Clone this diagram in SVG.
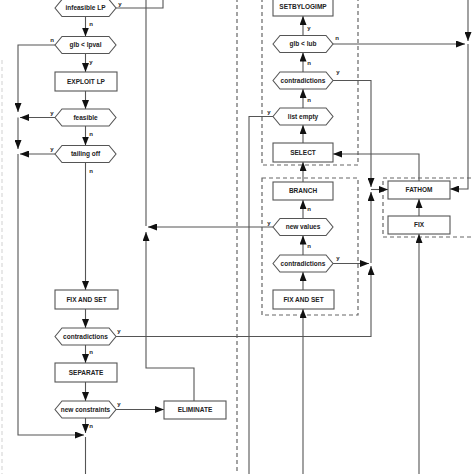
<svg xmlns="http://www.w3.org/2000/svg" width="474" height="474" viewBox="0 0 474 474">
<defs>
<style>
.bg{fill:#fff}
.box{fill:#fff;stroke:#555;stroke-width:1.1}
.ln{fill:none;stroke:#555;stroke-width:1.1}
.ar{fill:none;stroke:#555;stroke-width:1.1;marker-end:url(#ah)}
.dash{fill:none;stroke:#666;stroke-width:1.2;stroke-dasharray:4,3}
.t{font-family:"Liberation Sans",Arial,sans-serif;font-weight:bold;font-size:6.5px;fill:#222;text-anchor:middle}
.lb{font-family:"Liberation Sans",Arial,sans-serif;font-weight:bold;font-size:6px;fill:#222;text-anchor:middle}
</style>
<marker id="ah" viewBox="0 0 9 7" refX="9" refY="3.5" markerWidth="9" markerHeight="7" markerUnits="userSpaceOnUse" orient="auto">
<path d="M0,0 L9,3.5 L0,7 z" fill="#111"/>
</marker>
</defs>
<rect class="bg" x="0" y="0" width="474" height="474"/>

<g id="frames">
<path class="dash" d="M2,60 V474" stroke-opacity="0.25"/>
<path class="dash" d="M237,-2 V476"/>
<path class="dash" d="M262,-2 V165 H358 V-2"/>
<rect class="dash" x="262" y="178" width="96" height="137"/>
<path class="dash" d="M478,178 H383 V237 H478"/>
</g>

<g id="connectors">
<path class="ln" d="M116,8 H163 V-2"/>
<path class="ln" d="M146,-2 V226"/>
<path class="ar" d="M194,401 V368 H146 V232"/>
<path class="ar" d="M85.5,17 V36.5"/>
<path class="ar" d="M55,45 H18 V112"/>
<path class="ar" d="M18,117.5 V149"/>
<path class="ar" d="M18,154 V435 H84"/>
<path class="ar" d="M55,117.5 H20"/>
<path class="ar" d="M55,154 H20"/>
<path class="ar" d="M85.5,53.5 V72"/>
<path class="ar" d="M85.5,91 V109"/>
<path class="ar" d="M85.5,126 V145.5"/>
<path class="ar" d="M85.5,162.5 V290"/>
<path class="ar" d="M85.5,309 V328"/>
<path class="ar" d="M116,336.5 H371 V266"/>
<path class="ar" d="M85.5,345 V363"/>
<path class="ar" d="M85.5,382 V401"/>
<path class="ar" d="M116,409.5 H164"/>
<path class="ar" d="M85.5,418 V433"/>
<path class="ln" d="M85.5,437 V476"/>

<path class="ar" d="M303,35.5 V16"/>
<path class="ar" d="M333,44 H465"/>
<path class="ar" d="M468,-2 V41"/>
<path class="ar" d="M468,44 V189 H450"/>
<path class="ar" d="M303,72 V52.5"/>
<path class="ar" d="M333,80.5 H371 V187"/>
<path class="ar" d="M303,108 V89"/>
<path class="ln" d="M273,116.5 H249 V476"/>
<path class="ar" d="M303,143 V125"/>
<path class="ar" d="M419,181 V154 H333"/>
<path class="ar" d="M303,182 V162"/>
<path class="ar" d="M303,218.5 V200"/>
<path class="ar" d="M273,227 H148"/>
<path class="ar" d="M303,255 V235.5"/>
<path class="ar" d="M333,263.5 H369"/>
<path class="ar" d="M371,263 V192"/>
<path class="ar" d="M371,189.5 H388"/>
<path class="ar" d="M303,290 V272"/>
<path class="ar" d="M303,476 V309"/>
<path class="ar" d="M419,216 V199"/>
<path class="ar" d="M419,476 V234"/>
</g>

<g id="labels">
<text class="lb" x="120" y="6">y</text>
<text class="lb" x="91" y="26">n</text>
<text class="lb" x="52" y="42">n</text>
<text class="lb" x="91" y="64">y</text>
<text class="lb" x="52" y="115">y</text>
<text class="lb" x="91" y="136">n</text>
<text class="lb" x="52" y="151">y</text>
<text class="lb" x="91" y="173">n</text>
<text class="lb" x="119" y="333">y</text>
<text class="lb" x="91" y="354">n</text>
<text class="lb" x="119" y="406">y</text>
<text class="lb" x="91" y="428">n</text>
<text class="lb" x="309" y="30">y</text>
<text class="lb" x="337" y="40">n</text>
<text class="lb" x="309" y="65">n</text>
<text class="lb" x="338" y="74">y</text>
<text class="lb" x="309" y="102">n</text>
<text class="lb" x="269" y="114">y</text>
<text class="lb" x="309" y="211">n</text>
<text class="lb" x="269" y="225">y</text>
<text class="lb" x="309" y="248">n</text>
<text class="lb" x="338" y="260">y</text>
</g>

<g id="n-infeasible"><polygon class="box" points="55,8 62,-0.5 109,-0.5 116,8 109,16.5 62,16.5"/><text class="t" x="85.5" y="10.3">infeasible LP</text></g>
<g id="n-glblpval"><polygon class="box" points="55,45 62,36.5 109,36.5 116,45 109,53.5 62,53.5"/><text class="t" x="85.5" y="47.3">glb &lt; lpval</text></g>
<g id="n-exploit"><rect class="box" x="55" y="72" width="62" height="19"/><text class="t" x="86" y="83.8">EXPLOIT LP</text></g>
<g id="n-feasible"><polygon class="box" points="55,117.5 62,109 109,109 116,117.5 109,126 62,126"/><text class="t" x="85.5" y="119.8">feasible</text></g>
<g id="n-tailing"><polygon class="box" points="55,154 62,145.5 109,145.5 116,154 109,162.5 62,162.5"/><text class="t" x="85.5" y="156.3">tailing off</text></g>
<g id="n-fixset1"><rect class="box" x="55" y="290" width="63" height="19"/><text class="t" x="86.5" y="301.8">FIX AND SET</text></g>
<g id="n-contra1"><polygon class="box" points="55,336.5 62,328 109,328 116,336.5 109,345 62,345"/><text class="t" x="85.5" y="338.8">contradictions</text></g>
<g id="n-separate"><rect class="box" x="55" y="363" width="62" height="19"/><text class="t" x="86" y="374.8">SEPARATE</text></g>
<g id="n-newcons"><polygon class="box" points="55,409.5 62,401 109,401 116,409.5 109,418 62,418"/><text class="t" x="85.5" y="411.8">new constraints</text></g>
<g id="n-eliminate"><rect class="box" x="164" y="401" width="62" height="18"/><text class="t" x="195" y="412.3">ELIMINATE</text></g>

<g id="n-setbylogimp"><rect class="box" x="273" y="-3" width="60" height="19"/><text class="t" x="303" y="9.3">SETBYLOGIMP</text></g>
<g id="n-glblub"><polygon class="box" points="273,44 280,35.5 326,35.5 333,44 326,52.5 280,52.5"/><text class="t" x="303" y="46.3">glb &lt; lub</text></g>
<g id="n-contra2"><polygon class="box" points="273,80.5 280,72 326,72 333,80.5 326,89 280,89"/><text class="t" x="303" y="82.8">contradictions</text></g>
<g id="n-listempty"><polygon class="box" points="273,116.5 280,108 326,108 333,116.5 326,125 280,125"/><text class="t" x="303" y="118.8">list empty</text></g>
<g id="n-select"><rect class="box" x="273" y="143" width="60" height="19"/><text class="t" x="303" y="154.8">SELECT</text></g>
<g id="n-branch"><rect class="box" x="273" y="182" width="60" height="18"/><text class="t" x="303" y="193.3">BRANCH</text></g>
<g id="n-newvalues"><polygon class="box" points="273,227 280,218.5 326,218.5 333,227 326,235.5 280,235.5"/><text class="t" x="303" y="229.3">new values</text></g>
<g id="n-contra3"><polygon class="box" points="273,263.5 280,255 326,255 333,263.5 326,272 280,272"/><text class="t" x="303" y="265.8">contradictions</text></g>
<g id="n-fixset2"><rect class="box" x="273" y="290" width="61" height="19"/><text class="t" x="303.5" y="301.8">FIX AND SET</text></g>
<g id="n-fathom"><rect class="box" x="388" y="181" width="62" height="18"/><text class="t" x="419" y="192.3">FATHOM</text></g>
<g id="n-fix"><rect class="box" x="388" y="216" width="62" height="18"/><text class="t" x="419" y="227.3">FIX</text></g>
</svg>
